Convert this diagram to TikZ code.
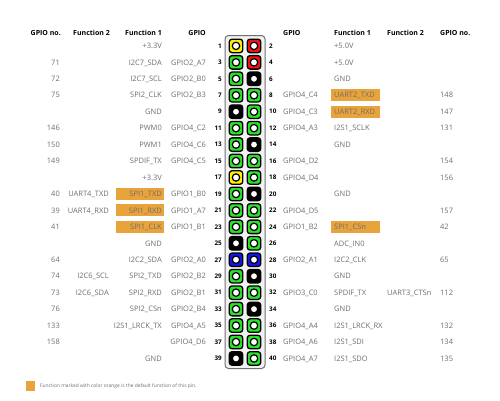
\documentclass[tikz,border=0pt]{standalone}
\usepackage{fontspec}
\setmainfont{Open Sans}
\definecolor{txt}{HTML}{6E6E6E}
\definecolor{orng}{HTML}{E9A33B}
\definecolor{pgrn}{HTML}{2EE02E}
\definecolor{pyel}{HTML}{FFF200}
\definecolor{pred}{HTML}{F01414}
\definecolor{pblu}{HTML}{1414E6}
\definecolor{pblk}{HTML}{000000}
\definecolor{boxfill}{HTML}{F2F2F2}
\definecolor{boxline}{HTML}{707070}
\begin{document}
\begin{tikzpicture}[x=1pt,y=-1pt,
  val/.style={font=\fontsize{7.5}{9}\selectfont, text=txt, inner sep=0pt, text height=5.4pt, text depth=0pt},
  hdr/.style={font=\fontsize{7}{8}\selectfont\bfseries, inner sep=0pt, text height=5pt, text depth=0pt},
  pinnum/.style={font=\fontsize{6.3}{8}\selectfont\bfseries, inner sep=0pt, text height=4.5pt, text depth=0pt},
  pinbox/.style={draw=black, line width=1.3pt, rounded corners=2.8pt, minimum size=13.5pt, inner sep=0pt},
  pinhole/.style={circle, draw=black, line width=1.2pt, fill=white, minimum size=7.4pt, inner sep=0pt},
  hlbox/.style={fill=orng, minimum height=12pt, inner sep=0pt}]
\useasboundingbox (0,0) rectangle (500,400);
% headers
\node[hdr, anchor=east] (hlno) at (61,33.3) {GPIO no.};
\node[hdr, anchor=east] (hlf2) at (110,33.3) {Function 2};
\node[hdr, anchor=east] (hlf1) at (162,33.3) {Function 1};
\node[hdr, anchor=east] (hlgp) at (206,33.3) {GPIO};
\node[hdr, anchor=west] (hrgp) at (283,33.3) {GPIO};
\node[hdr, anchor=west] (hrf1) at (334,33.3) {Function 1};
\node[hdr, anchor=west] (hrf2) at (387,33.3) {Function 2};
\node[hdr, anchor=west] (hrno) at (440,33.3) {GPIO no.};
% header housing
\draw[fill=boxfill, draw=boxline, line width=1pt, rounded corners=3.5pt] (225,35.5) rectangle (265,368.5);
% left side
\foreach \i/\no/\ftwo/\fone/\gp/\col/\hl in {
1/{}/{}/+3.3V/{}/pyel/0,
2/71/{}/I2C7\_SDA/GPIO2\_A7/pgrn/0,
3/72/{}/I2C7\_SCL/GPIO2\_B0/pgrn/0,
4/75/{}/SPI2\_CLK/GPIO2\_B3/pgrn/0,
5/{}/{}/GND/{}/pblk/0,
6/146/{}/PWM0/GPIO4\_C2/pgrn/0,
7/150/{}/PWM1/GPIO4\_C6/pgrn/0,
8/149/{}/SPDIF\_TX/GPIO4\_C5/pgrn/0,
9/{}/{}/+3.3V/{}/pyel/0,
10/40/UART4\_TXD/SPI1\_TXD/GPIO1\_B0/pgrn/1,
11/39/UART4\_RXD/SPI1\_RXD/GPIO1\_A7/pgrn/1,
12/41/{}/SPI1\_CLK/GPIO1\_B1/pgrn/1,
13/{}/{}/GND/{}/pblk/0,
14/64/{}/I2C2\_SDA/GPIO2\_A0/pblu/0,
15/74/I2C6\_SCL/SPI2\_TXD/GPIO2\_B2/pgrn/0,
16/73/I2C6\_SDA/SPI2\_RXD/GPIO2\_B1/pgrn/0,
17/76/{}/SPI2\_CSn/GPIO2\_B4/pgrn/0,
18/133/{}/I2S1\_LRCK\_TX/GPIO4\_A5/pgrn/0,
19/158/{}/{}/GPIO4\_D6/pgrn/0,
20/{}/{}/GND/{}/pblk/0}{
  \pgfmathsetmacro\y{45.9+(\i-1)*16.45}
  \pgfmathtruncatemacro\pn{2*\i-1}
  \ifnum\hl=1 \node[hlbox, minimum width=48pt] (lhl\i) at (140,\y) {}; \fi
  \node[val, anchor=east] (lno\i) at (60,\y) {\no};
  \node[val, anchor=east] (lftwo\i) at (109,\y) {\ftwo};
  \node[val, anchor=east] (lfone\i) at (162,\y) {\fone};
  \node[val, anchor=east] (lgp\i) at (206,\y) {\gp};
  \node[pinnum, anchor=east] (lpn\i) at (222,\y) {\pn};
  \node[pinbox, fill=\col] (lpin\i) at (236,\y) {};
  \node[pinhole] (lhole\i) at (lpin\i.center) {};
}
% right side
\foreach \i/\gp/\fone/\ftwo/\no/\col/\hl in {
1/{}/+5.0V/{}/{}/pred/0,
2/{}/+5.0V/{}/{}/pred/0,
3/{}/GND/{}/{}/pblk/0,
4/GPIO4\_C4/UART2\_TXD/{}/148/pgrn/1,
5/GPIO4\_C3/UART2\_RXD/{}/147/pgrn/1,
6/GPIO4\_A3/I2S1\_SCLK/{}/131/pgrn/0,
7/{}/GND/{}/{}/pblk/0,
8/GPIO4\_D2/{}/{}/154/pgrn/0,
9/GPIO4\_D4/{}/{}/156/pgrn/0,
10/{}/GND/{}/{}/pblk/0,
11/GPIO4\_D5/{}/{}/157/pgrn/0,
12/GPIO1\_B2/SPI1\_CSn/{}/42/pgrn/1,
13/{}/ADC\_IN0/{}/{}/pgrn/0,
14/GPIO2\_A1/I2C2\_CLK/{}/65/pblu/0,
15/{}/GND/{}/{}/pblk/0,
16/GPIO3\_C0/SPDIF\_TX/UART3\_CTSn/112/pgrn/0,
17/{}/GND/{}/{}/pblk/0,
18/GPIO4\_A4/I2S1\_LRCK\_RX/{}/132/pgrn/0,
19/GPIO4\_A6/I2S1\_SDI/{}/134/pgrn/0,
20/GPIO4\_A7/I2S1\_SDO/{}/135/pgrn/0}{
  \pgfmathsetmacro\y{45.9+(\i-1)*16.45}
  \pgfmathtruncatemacro\pn{2*\i}
  \ifnum\hl=1 \node[hlbox, minimum width=49pt] (rhl\i) at (355.5,\y) {}; \fi
  \node[pinbox, fill=\col] (rpin\i) at (254,\y) {};
  \node[pinhole] (rhole\i) at (rpin\i.center) {};
  \node[pinnum, anchor=west] (rpn\i) at (269,\y) {\pn};
  \node[val, anchor=west] (rgp\i) at (283,\y) {\gp};
  \node[val, anchor=west] (rfone\i) at (334,\y) {\fone};
  \node[val, anchor=west] (rftwo\i) at (387,\y) {\ftwo};
  \node[val, anchor=west] (rno\i) at (440,\y) {\no};
}
% legend
\node[fill=orng, minimum size=9.5pt, inner sep=0pt] (legsq) at (30.5,386) {};
\node[font=\fontsize{4.9}{6}\selectfont, text=txt, inner sep=0pt, anchor=west] (legtxt) at (40,386) {Function marked with color orange is the default function of this pin.};
\end{tikzpicture}
\end{document}
